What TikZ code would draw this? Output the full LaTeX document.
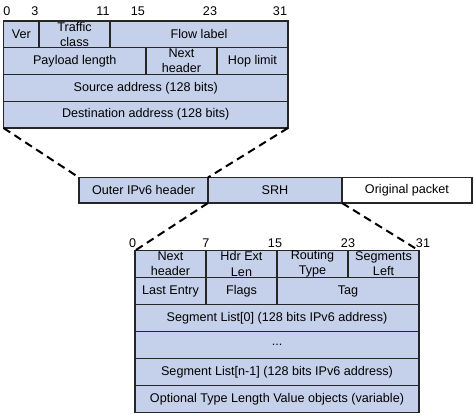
\documentclass[tikz,border=0pt]{standalone}
\usepackage{fontspec}
\setmainfont{Liberation Sans}
\usepackage{tikz}
\usetikzlibrary{positioning}
\definecolor{fieldblue}{RGB}{197,209,234}

\begin{document}
\begin{tikzpicture}[
    x=1pt, y=-1pt,
    field/.style={rectangle, draw=black!85, line width=1.3pt, fill=fieldblue,
        minimum height=26.8pt, inner sep=0pt, outer sep=0pt, align=center},
    plain/.style={field, fill=white},
    bitno/.style={inner sep=0pt},
    zoom/.style={dashed, line width=2pt, dash pattern=on 8pt off 5pt},
    every node/.style={font=\fontsize{12.6}{15.2}\selectfont}
]
\useasboundingbox (0,0) rectangle (474,416);

% IPv6 header
\node[field, minimum width=35.5pt]  (ver)     at (21.25,34.4)  {Ver};
\node[field, minimum width=71pt]    (tclass)  at (74.5,34.4)   {Traffic\\class};
\node[field, minimum width=178pt]   (flow)    at (199,34.4)    {Flow label};
\node[field, minimum width=142.5pt] (paylen)  at (74.75,61.1)  {Payload length};
\node[field, minimum width=71pt]    (nexthdr) at (181.5,61.1)  {Next\\header};
\node[field, minimum width=71pt]    (hoplim)  at (252.5,61.1)  {Hop limit};
\node[field, minimum width=284.5pt] (src)     at (145.75,87.9) {Source address (128 bits)};
\node[field, minimum width=284.5pt] (dst)     at (145.75,114.6) {Destination address (128 bits)};

% bit positions
\node[bitno] at (7,11)   {0};
\node[bitno] at (35,11)  {3};
\node[bitno] at (103,11) {11};
\node[bitno] at (138,11) {15};
\node[bitno] at (210,11) {23};
\node[bitno] at (280,11) {31};

% packet
\node[field, minimum width=129pt, minimum height=25.5pt] (outer) at (143.5,190.25) {Outer IPv6 header};
\node[field, minimum width=134pt, minimum height=25.5pt] (srh)   at (275,190.25)   {SRH};
\node[plain, minimum width=130pt, minimum height=25.5pt] (orig)  at (407,190.25)   {Original packet};

% SRH
\node[field, minimum width=71pt]  (srhnext) at (170.5,264)  {Next\\header};
\node[field, minimum width=71pt]  (extlen)  at (241.5,264)  {Hdr Ext\\Len};
\node[field, minimum width=71pt]  (rtype)   at (312.5,264)  {Routing\\Type};
\node[field, minimum width=71pt]  (segleft) at (383.5,264)  {Segments\\Left};
\node[field, minimum width=71pt]  (lastent) at (170.5,291)  {Last Entry};
\node[field, minimum width=71pt]  (flags)   at (241.5,291)  {Flags};
\node[field, minimum width=142pt] (tag)     at (348,291)    {Tag};
\node[field, minimum width=284pt] (seg0)    at (277,318)    {Segment List[0] (128 bits IPv6 address)};
\node[field, minimum width=284pt] (segdots) at (277,345)    {...};
\node[field, minimum width=284pt] (segn)    at (277,372)    {Segment List[n-1] (128 bits IPv6 address)};
\node[field, minimum width=284pt] (tlv)     at (277,399)    {Optional Type Length Value objects (variable)};

% bit positions
\node[bitno] at (132.7,243) {0};
\node[bitno] at (206,243)   {7};
\node[bitno] at (275,243)   {15};
\node[bitno] at (348,243)   {23};
\node[bitno] at (423,243)   {31};

% zoom lines
\draw[zoom] (dst.south west) -- (outer.north west);
\draw[zoom] (dst.south east) -- (outer.north east);
\draw[zoom] (srh.south west) -- (srhnext.north west);
\draw[zoom] (srh.south east) -- (segleft.north east);

\end{tikzpicture}
\end{document}
